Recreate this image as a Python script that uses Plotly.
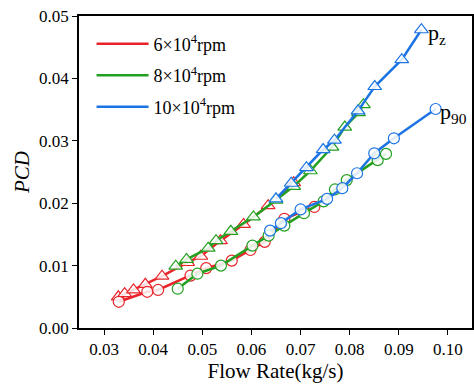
import plotly.graph_objects as go

# 6x10^4 rpm
red_pz_x = [0.0329, 0.0342, 0.0360, 0.0384, 0.0418, 0.0470, 0.0497, 0.0537, 0.0584, 0.0634, 0.0686]
red_pz_y = [0.0050, 0.0055, 0.0061, 0.0070, 0.0083, 0.0105, 0.0115, 0.0140, 0.0166, 0.0196, 0.0233]
red_p90_x = [0.0330, 0.0388, 0.0410, 0.0476, 0.0508, 0.0560, 0.0598, 0.0627, 0.0667, 0.0728]
red_p90_y = [0.0042, 0.0058, 0.0061, 0.0084, 0.0096, 0.0108, 0.0125, 0.0138, 0.0175, 0.0194]

# 8x10^4 rpm
green_pz_x = [0.0446, 0.0468, 0.0512, 0.0528, 0.0558, 0.0604, 0.0650, 0.0686, 0.0720, 0.0764, 0.0790, 0.0818, 0.0828]
green_pz_y = [0.0099, 0.0110, 0.0128, 0.0140, 0.0155, 0.0178, 0.0205, 0.0227, 0.0252, 0.0290, 0.0322, 0.0345, 0.0358]
green_p90_x = [0.0450, 0.0490, 0.0538, 0.0602, 0.0635, 0.0667, 0.0707, 0.0747, 0.0770, 0.0794, 0.0857, 0.0874]
green_p90_y = [0.0063, 0.0087, 0.0100, 0.0132, 0.0148, 0.0164, 0.0184, 0.0203, 0.0222, 0.0237, 0.0269, 0.0279]

# 10x10^4 rpm
blue_pz_x = [0.0650, 0.0681, 0.0712, 0.0746, 0.0769, 0.0817, 0.0851, 0.0906, 0.0946]
blue_pz_y = [0.0207, 0.0232, 0.0257, 0.0286, 0.0301, 0.0348, 0.0387, 0.0430, 0.0478]
blue_p90_x = [0.0638, 0.0660, 0.0700, 0.0754, 0.0785, 0.0815, 0.0850, 0.0890, 0.0975]
blue_p90_y = [0.0156, 0.0168, 0.0190, 0.0207, 0.0224, 0.0248, 0.0280, 0.0304, 0.0351]

legend_names = ["6×10<sup>4</sup>rpm", "8×10<sup>4</sup>rpm", "10×10<sup>4</sup>rpm"]
x_ticks = [0.03, 0.04, 0.05, 0.06, 0.07, 0.08, 0.09, 0.10]
y_ticks = [0.00, 0.01, 0.02, 0.03, 0.04, 0.05]

RED = "#e8242a"
GREEN = "#22a020"
BLUE = "#1c74e4"
FONT = "Liberation Serif"

fig = go.Figure()

series = [
    (red_pz_x, red_pz_y, red_p90_x, red_p90_y, RED),
    (green_pz_x, green_pz_y, green_p90_x, green_p90_y, GREEN),
    (blue_pz_x, blue_pz_y, blue_p90_x, blue_p90_y, BLUE),
]

for px, py, cx, cy, col in series:
    fig.add_trace(go.Scatter(
        x=px, y=py, mode="lines+markers", showlegend=False,
        line=dict(color=col, width=2.5),
        marker=dict(symbol="triangle-up", size=12, color="rgba(255,255,255,0.85)",
                    line=dict(color=col, width=1.2)),
    ))
    fig.add_trace(go.Scatter(
        x=cx, y=cy, mode="lines+markers", showlegend=False,
        line=dict(color=col, width=2.5),
        marker=dict(symbol="circle", size=11, color="rgba(255,255,255,0.85)",
                    line=dict(color=col, width=1.2)),
    ))

for name, col in zip(legend_names, [RED, GREEN, BLUE]):
    fig.add_trace(go.Scatter(
        x=[None], y=[None], mode="lines", name=name, legendgroup=name,
        line=dict(color=col, width=2.5),
    ))

fig.add_annotation(x=blue_pz_x[-1], y=blue_pz_y[-1], text="p<sub>z</sub>",
                   showarrow=False, xanchor="left", yanchor="middle", xshift=5, yshift=-4,
                   font=dict(family=FONT, size=22, color="black"))
fig.add_annotation(x=blue_p90_x[-1], y=blue_p90_y[-1], text="p<sub>90</sub>",
                   showarrow=False, xanchor="left", yanchor="middle", xshift=2, yshift=-4,
                   font=dict(family=FONT, size=22, color="black"))

axis_common = dict(
    showgrid=False, zeroline=False, showline=True, linecolor="black", linewidth=1.5,
    mirror=True, ticks="outside", ticklen=5, tickwidth=1.2, tickcolor="black",
    tickfont=dict(family=FONT, size=17, color="black"), tickformat=".2f",
    automargin=False,
)

fig.update_layout(
    width=474, height=389,
    margin=dict(l=79, r=2, t=16, b=61),
    paper_bgcolor="white", plot_bgcolor="white",
    xaxis=dict(range=[0.0249, 0.1049], tickvals=x_ticks,
               title=dict(text="Flow Rate(kg/s)", font=dict(family=FONT, size=21, color="black"),
                          standoff=4),
               **axis_common),
    yaxis=dict(range=[0, 0.05], tickvals=y_ticks,
               title=dict(text="<i>PCD</i>", font=dict(family=FONT, size=21, color="black"),
                          standoff=4),
               **axis_common),
    legend=dict(x=0.032, y=0.969, xanchor="left", yanchor="top",
                font=dict(family=FONT, size=18, color="black"),
                bgcolor="rgba(0,0,0,0)", traceorder="grouped", tracegroupgap=5,
                itemwidth=52),
    showlegend=True,
)

fig.write_html("out.html", config={"displayModeBar": False},
               post_script="document.body.style.margin='0px';document.body.style.padding='0px';")
